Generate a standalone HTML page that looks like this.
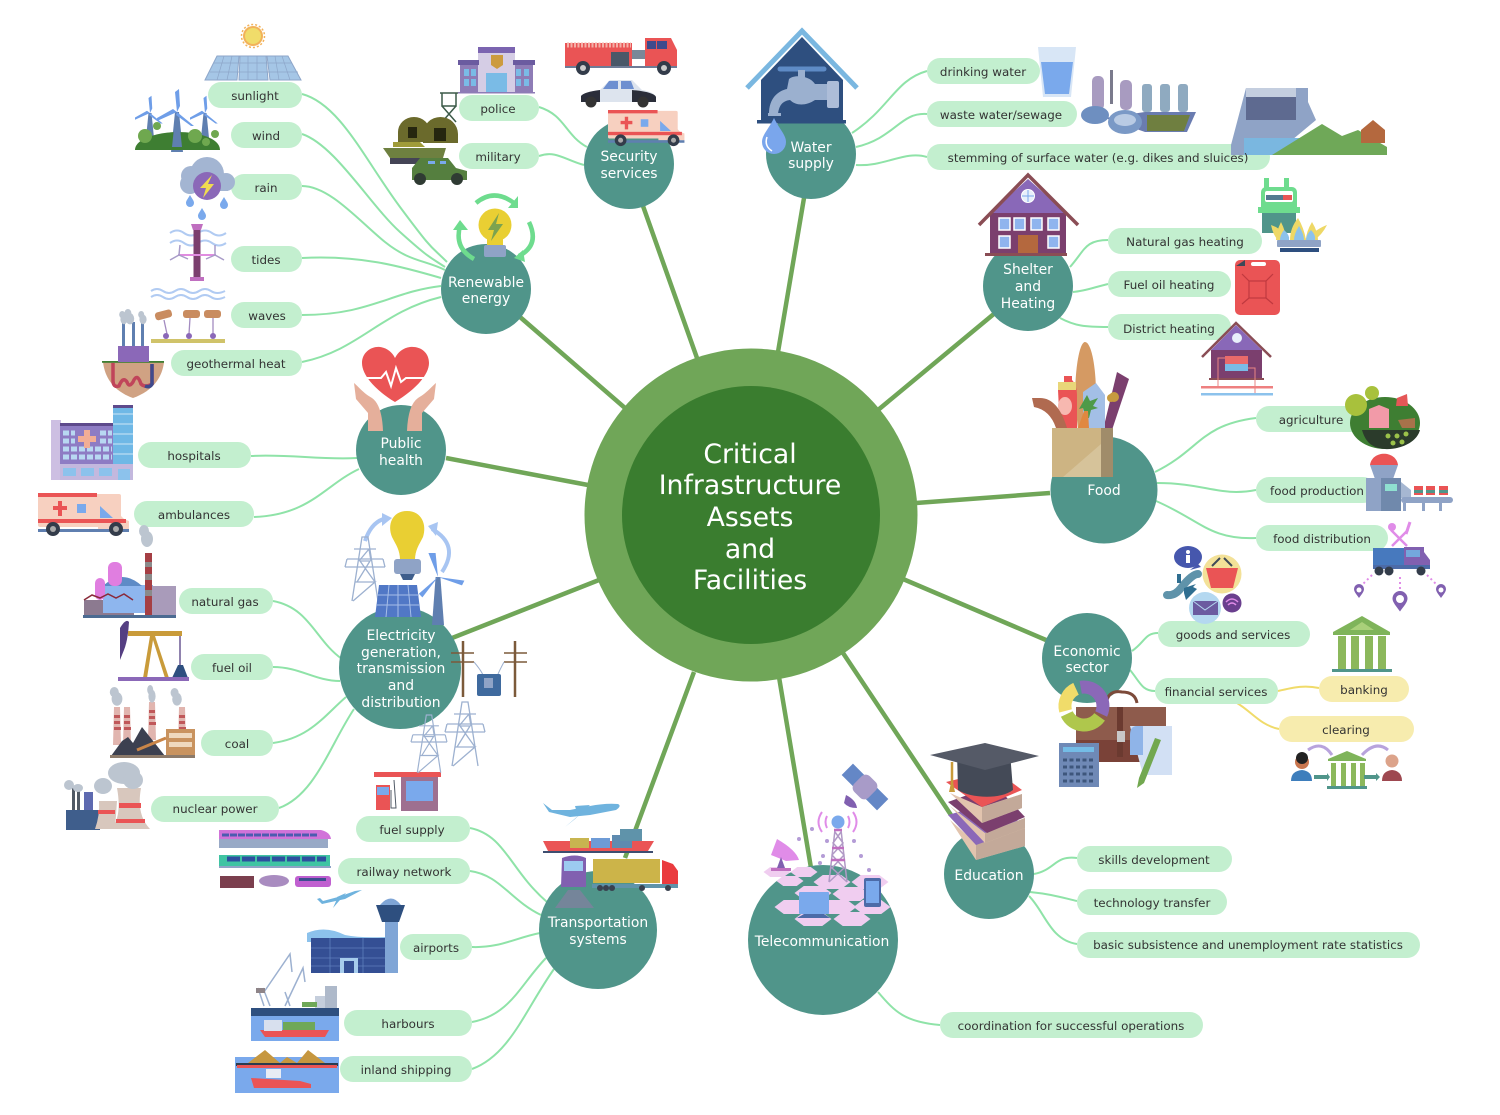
<!DOCTYPE html>
<html><head><meta charset="utf-8"><title>Critical Infrastructure Assets and Facilities</title>
<style>
html,body{margin:0;padding:0;background:#fff}
svg{display:block}
text{font-family:"DejaVu Sans","Liberation Sans",sans-serif}
.l text{font-size:11.9px;fill:#333;text-anchor:middle}
.n text{font-size:13.9px;fill:#fff;text-anchor:middle}
.c text{font-size:26.7px;fill:#fff;text-anchor:middle}
.p rect{fill:#C3EFCF}
.y rect{fill:#F7ECAE}
</style></head><body>
<svg xmlns="http://www.w3.org/2000/svg" width="1500" height="1115" viewBox="0 0 1500 1115">
<defs>
<g id="amb">
<rect x="0" y="1" width="83" height="33" rx="2" fill="#F7D0C0"/><path d="M60 8h8l18 18 5 2v8H60z" fill="#F7D0C0"/>
<rect x="0" y="0" width="59" height="4" fill="#EA5455"/><rect x="0" y="26" width="88" height="4" fill="#EA5455"/>
<path d="M62 13l13 12H62z" fill="#7AA9EC"/><rect x="39" y="11" width="9" height="9" fill="#7AA9EC"/>
<path d="M20 8h4v5h5v4h-5v6h-4v-6h-5v-4h5z" fill="#EA5455"/>
<rect x="0" y="36" width="91" height="3" fill="#5F7FB0"/><circle cx="15" cy="36" r="7" fill="#333C4A"/><circle cx="15" cy="36" r="3" fill="#aaa"/><circle cx="78" cy="36" r="7" fill="#333C4A"/><circle cx="78" cy="36" r="3" fill="#aaa"/>
</g>
<g id="tow" fill="none" stroke="#9DB1D0" stroke-width="1.300">
<path d="M-13 64L-3 0H3L13 64M-10 45H10L-12 64M10 45L-5 24H5L-8 45M-4 12H4L-6 24M4 12L6 24M-18 22H18M-20 30H20M-18 22L-20 30M18 22L20 30M-11 12H11"/>
</g>
<g id="turb"><path d="M-2 0L2 0L5 40H-5z" fill="#5F7FB0"/><path d="M0 0L-8-20L-2-20zM0 0L22 3L20 7zM0 0L-13 17L-16 14z" fill="#6F9EE8"/></g>
<g id="turb2"><path d="M-2 0L2 0L6 40H-6z" fill="#5F7FB0"/><path d="M0 0L-2-20L2-23L3-6zM0 0L-20 9L-20 6L-4-3zM0 0L17 14L14 14L-1 3z" fill="#6F9EE8"/></g>
<g id="chim"><path d="M-3 0H3L4 38H-4z" fill="#E1B5AF"/><path d="M-3 8h6v3h-6zM-3 14h6v3h-6zM-3 20h7v3h-7z" fill="#C0585A"/></g>
<g id="smoke" fill="#BCC5D0"><ellipse cx="0" cy="-6" rx="6" ry="8"/><ellipse cx="-3" cy="-14" rx="5" ry="6"/></g>
<path id="hex" d="M-1 0L-.5-1H.5L1 0L.5 1H-.5z" fill="#F0CDF0"/>
</defs>

<!-- thin connectors -->
<g fill="none" stroke="#8FE3A8" stroke-width="2">
<path d="M302 94C340 104 365 160 400 207S430 245 447 262"/>
<path d="M302 134C335 145 370 205 400 232S430 257 445 267"/>
<path d="M302 186C330 186 360 222 385 242S425 260 445 270"/>
<path d="M302 258C360 255 400 266 441 278"/>
<path d="M302 315C370 315 390 292 441 286"/>
<path d="M302 362C360 350 380 312 441 297"/>
<path d="M539 107C565 115 565 135 587 147"/>
<path d="M539 156C556 150 565 160 584 165"/>
<path d="M927 71C895 80 890 108 852 133"/>
<path d="M927 114C900 112 895 138 856 147"/>
<path d="M927 157C905 150 885 167 856 165"/>
<path d="M1108 240C1085 240 1085 250 1070 267"/>
<path d="M1108 284C1095 287 1085 291 1073 292"/>
<path d="M1108 327C1085 327 1075 326 1060 318"/>
<path d="M1256 418C1200 425 1200 450 1155 472"/>
<path d="M1256 490C1220 497 1205 483 1157 483"/>
<path d="M1256 538C1210 540 1200 520 1156 501"/>
<path d="M1158 633C1145 633 1145 642 1132 651"/>
<path d="M1155 691C1142 691 1140 682 1130 670"/>
<path d="M1077 858C1055 855 1055 870 1034 874"/>
<path d="M1077 901C1060 897 1050 894 1030 892"/>
<path d="M1077 944C1050 940 1045 912 1029 896"/>
<path d="M940 1025C905 1022 895 1012 878 992"/>
<path d="M251 456C290 454 320 460 357 458"/>
<path d="M254 517C310 515 325 485 359 469"/>
<path d="M273 601C310 608 315 640 342 659"/>
<path d="M273 667C300 667 315 681 340 681"/>
<path d="M273 743C310 738 325 715 346 697"/>
<path d="M279 808C315 795 330 745 354 709"/>
<path d="M470 828C505 835 510 870 547 902"/>
<path d="M470 871C500 875 510 900 541 915"/>
<path d="M472 947C500 948 515 938 540 933"/>
<path d="M472 1022C510 1015 520 985 546 958"/>
<path d="M472 1069C510 1055 525 1010 554 969"/>
</g>
<g fill="none" stroke="#F0DB6A" stroke-width="2">
<path d="M1278 691C1295 687 1305 685 1319 688"/>
<path d="M1237 703C1252 712 1260 725 1279 729"/>
</g>
<!-- thick connectors -->
<g stroke="#70A658" stroke-width="4.500">
<path d="M520 317L625 408M643 206L697 358M804 198L778 352M995 313L878 410M1050 493L916 503M1046 640L903 579M951 815L843 653M811 868L779 677M625 858L694 672M447 640L599 580M446 458L588 485"/>
</g>
<!-- centre -->
<circle cx="751" cy="515" r="166.500" fill="#70A658"/><circle cx="751" cy="515" r="129" fill="#3A7D2F"/>
<!-- nodes -->
<g fill="#50958A">
<circle cx="486" cy="289" r="45"/><circle cx="629" cy="164" r="45"/><circle cx="811" cy="154" r="45"/>
<circle cx="1028" cy="286" r="45"/><circle cx="1104" cy="490" r="53.500"/><circle cx="1087" cy="658" r="45"/>
<circle cx="989" cy="874" r="45"/><circle cx="823" cy="940" r="75"/><circle cx="598" cy="930" r="59"/>
<circle cx="400" cy="668" r="61"/><circle cx="401" cy="450" r="45"/>
</g>
<!-- pills -->
<g class="p">
<rect x="208" y="82" width="94" height="26" rx="13"/><rect x="231" y="122" width="71" height="26" rx="13"/>
<rect x="231" y="174" width="71" height="26" rx="13"/><rect x="231" y="246" width="71" height="26" rx="13"/>
<rect x="231" y="302" width="71" height="26" rx="13"/><rect x="171" y="350" width="131" height="26" rx="13"/>
<rect x="459" y="95" width="80" height="26" rx="13"/><rect x="459" y="143" width="80" height="26" rx="13"/>
<rect x="927" y="58" width="113" height="26" rx="13"/><rect x="927" y="101" width="150" height="26" rx="13"/>
<rect x="927" y="144" width="343" height="26" rx="13"/>
<rect x="1108" y="228" width="154" height="26" rx="13"/><rect x="1108" y="271" width="123" height="26" rx="13"/>
<rect x="1108" y="314" width="123" height="26" rx="13"/>
<rect x="1256" y="406" width="112" height="26" rx="13"/><rect x="1256" y="477" width="120" height="26" rx="13"/>
<rect x="1256" y="525" width="132" height="26" rx="13"/>
<rect x="1158" y="621" width="152" height="26" rx="13"/><rect x="1155" y="678" width="123" height="26" rx="13"/>
<rect x="1077" y="846" width="155" height="26" rx="13"/><rect x="1077" y="889" width="150" height="26" rx="13"/>
<rect x="1077" y="932" width="343" height="26" rx="13"/><rect x="940" y="1012" width="263" height="26" rx="13"/>
<rect x="138" y="442" width="113" height="26" rx="13"/><rect x="134" y="501" width="120" height="26" rx="13"/>
<rect x="179" y="588" width="94" height="26" rx="13"/><rect x="191" y="654" width="82" height="26" rx="13"/>
<rect x="201" y="730" width="72" height="26" rx="13"/><rect x="151" y="796" width="128" height="26" rx="13"/>
<rect x="356" y="816" width="114" height="26" rx="13"/><rect x="338" y="858" width="132" height="26" rx="13"/>
<rect x="400" y="934" width="72" height="26" rx="13"/><rect x="344" y="1010" width="128" height="26" rx="13"/>
<rect x="340" y="1056" width="132" height="26" rx="13"/>
</g>
<g class="y"><rect x="1319" y="676" width="90" height="26" rx="13"/><rect x="1279" y="716" width="135" height="26" rx="13"/></g>

<!-- ICONS -->
<!-- sun + solar -->
<g stroke="#F2B25A" stroke-width="1.500" stroke-dasharray="2 2" fill="none"><circle cx="253" cy="36" r="11.500"/></g>
<circle cx="253" cy="36" r="10" fill="#F2B25A"/><circle cx="253" cy="36" r="8" fill="#F0DC6A"/>
<path d="M205 80L217 56H239L237 80zM239 80L240 56H266L268 80zM270 80L267 56H288L301 80z" fill="#A5C6E6" stroke="#8DA6C9"/>
<g stroke="#8DA6C9" stroke-width=".7"><path d="M210 72H298M214 63H292M224 56L217 80M232 56L227 80M248 56V80M257 56V80M275 56L279 80M282 56L290 80"/></g>
<!-- wind -->
<use href="#turb2" transform="translate(177 112)"/><use href="#turb2" transform="translate(150 113) scale(.75)"/><use href="#turb2" transform="translate(205 113) scale(.75)"/>
<path d="M135 150C135 138 160 132 178 132C198 132 220 138 220 150z" fill="#3E7E32"/>
<path d="M172 147L174 128H180L182 147z" fill="#5F7FB0"/>
<g fill="#6FA84F"><circle cx="145" cy="136" r="7"/><circle cx="195" cy="136" r="7"/><circle cx="157" cy="126" r="4"/><circle cx="215" cy="134" r="4"/><circle cx="206" cy="142" r="4"/></g>
<!-- rain -->
<g fill="#A3B5D2"><circle cx="207" cy="174" r="17"/><circle cx="191" cy="176" r="10"/><circle cx="226" cy="182" r="9"/><circle cx="190" cy="184" r="10"/><rect x="188" y="180" width="40" height="11"/></g>
<circle cx="207" cy="186" r="14" fill="#8B68B8"/><path d="M212 175L200 188H206L203 198L214 184H208z" fill="#F0DC50"/>
<g fill="#7AA9EC"><path d="M190 195c-3 5-4 6-4 8a4 4 0 0 0 8 0c0-2-1-3-4-8zM224 197c-3 5-4 6-4 8a4 4 0 0 0 8 0c0-2-1-3-4-8zM202 208c-3 5-4 6-4 8a4 4 0 0 0 8 0c0-2-1-3-4-8z"/></g>
<!-- tides -->
<g fill="none" stroke="#B1CBF2" stroke-width="2"><path d="M170 233q7-5 14 0t14 0 14 0 14 0M170 243q7-5 14 0t14 0 14 0 14 0"/></g>
<path d="M191 224h12l-2 6h-8z" fill="#C06FC0"/><rect x="193.500" y="230" width="7" height="47" fill="#7B3F6E"/><rect x="190" y="277" width="14" height="4" fill="#C06FC0"/>
<path d="M178 255L216 255" stroke="#E08CE0" stroke-width="2"/><path d="M179 255l-9 5M179 255l1-10M179 255l9 4M215 255l-9 4M215 255l0-10M215 255l9 5" stroke="#A89BC8" stroke-width="1.500"/>
<!-- waves -->
<g fill="none" stroke="#B1CBF2" stroke-width="2"><path d="M151 291q6-4 12 0t12 0 12 0 12 0 12 0 14 0M151 297q6-4 12 0t12 0 12 0 12 0 12 0 14 0"/></g>
<rect x="151" y="339" width="74" height="4" fill="#D0C36A"/>
<g fill="#C98C60"><rect x="155" y="311" width="17" height="8" rx="3" transform="rotate(-15 163 315)"/><rect x="183" y="310" width="17" height="8" rx="3"/><rect x="204" y="310" width="17" height="8" rx="3"/></g>
<g stroke="#A38BC0" stroke-width="1.300"><path d="M164 320L167 334M190 318L189 334M213 318V334"/></g>
<g fill="#8B68B8"><circle cx="166" cy="336" r="3"/><circle cx="189" cy="336" r="3"/><circle cx="213" cy="336" r="3"/></g>
<!-- geothermal -->
<path d="M103 362H164C162 380 150 392 133 398C116 392 105 380 103 362z" fill="#D0A283"/>
<rect x="102" y="361" width="62" height="1.800" fill="#3E7E32"/>
<rect x="118" y="346" width="31" height="16" fill="#8B68B8"/>
<g fill="#5F7FB0"><rect x="122" y="322" width="3" height="24"/><rect x="132" y="322" width="3" height="24"/><rect x="141" y="322" width="3" height="24"/></g>
<use href="#smoke" transform="translate(124 323) scale(.6)"/><use href="#smoke" transform="translate(130 323) scale(.7)"/><use href="#smoke" transform="translate(143 323) scale(.6)"/>
<path d="M113 363V380Q113 388 119 386Q123 376 127 382Q129 388 133 382Q137 372 141 384Q145 388 152 384V364" fill="none" stroke="#C0455A" stroke-width="3.500"/>
<path d="M152 364V384Q150 388 145 386" stroke="#3F4A8C" stroke-width="3.500" fill="none"/>
<!-- renewable bulb -->
<circle cx="495" cy="225" r="16.500" fill="#E9CF33"/><path d="M487 238H503V246H487z" fill="#E9CF33"/><rect x="484" y="245" width="22" height="12" rx="2" fill="#8FA3C6"/><path d="M499 213L488 230H494L491 241L503 224H496z" fill="#7CA34F"/>
<g fill="none" stroke="#6EDC8E" stroke-width="4.500"><path d="M476 203Q494 188 514 203"/><path d="M460 226Q454 248 474 259"/><path d="M529 222Q540 245 519 256"/></g>
<g fill="#6EDC8E"><path d="M508 208L518 196V208zM453 230L460 220L468 230zM514 258L523 250L525 262z"/></g>
<!-- police -->
<rect x="478" y="52" width="37" height="41" fill="#D5CDE5"/><rect x="478" y="47" width="37" height="6" fill="#7B64B0"/>
<rect x="460" y="65" width="18" height="28" fill="#8E7CB6"/><rect x="515" y="65" width="18" height="28" fill="#8E7CB6"/><rect x="458" y="60" width="21" height="5" fill="#6B5BA0"/><rect x="513" y="60" width="22" height="5" fill="#6B5BA0"/>
<g fill="#7ABBE6"><rect x="464" y="69" width="5" height="7"/><rect x="471" y="69" width="5" height="7"/><rect x="464" y="79" width="5" height="7"/><rect x="471" y="79" width="5" height="7"/><rect x="516" y="69" width="5" height="7"/><rect x="524" y="69" width="5" height="7"/><rect x="516" y="79" width="5" height="7"/><rect x="524" y="79" width="5" height="7"/><rect x="486" y="73" width="21" height="20"/></g>
<path d="M491 55h12v10l-6 4-6-4z" fill="#CC9B3F"/><rect x="458" y="92" width="77" height="1.500" fill="#8E7CB6"/>
<!-- military -->
<g fill="none" stroke="#3C5A48" stroke-width="1.500"><path d="M440 93H458M442 93V106H456V93M442 106L456 122M456 106L442 122"/></g>
<path d="M398 142V132A16 15 0 0 1 430 132V142z" fill="#6B6A2C"/><path d="M423 143V134A17.500 17 0 0 1 458 134V143z" fill="#6B6A2C"/><rect x="408" y="127" width="9" height="11" fill="#26260F"/><rect x="434" y="128" width="12" height="13" fill="#26260F"/>
<path d="M383 148H446L443 158H390z" fill="#6E8040"/><path d="M393 142H420L425 147H393z" fill="#A09C3A"/><rect x="390" y="158" width="30" height="6" fill="#445"/>
<path d="M412 168L420 158H448L456 168L467 171V180H412z" fill="#557F3F"/><rect x="428" y="161" width="7" height="3" fill="#7AA9EC"/><rect x="440" y="161" width="6" height="3" fill="#7AA9EC"/><circle cx="420" cy="179" r="6" fill="#2F3B33"/><circle cx="457" cy="179" r="6" fill="#2F3B33"/>
<!-- fire truck -->
<path d="M565 43H632V68H565z" fill="#EA5455"/><path d="M567 45H631" stroke="#F4B0A8" stroke-width="5" stroke-dasharray="2 1.500"/><path d="M645 38H671L677 50V68H645z" fill="#EA5455"/>
<rect x="647" y="41" width="9" height="8" fill="#3F4A8C"/><rect x="657" y="41" width="10" height="8" fill="#3F4A8C"/><rect x="611" y="52" width="18" height="16" fill="#4A5868"/><rect x="632" y="50" width="13" height="9" fill="#7A8898"/>
<rect x="565" y="66" width="112" height="2" fill="#6F7C96"/><circle cx="583" cy="68" r="7" fill="#333C4A"/><circle cx="583" cy="68" r="3" fill="#ccc"/><circle cx="664" cy="68" r="7" fill="#333C4A"/><circle cx="664" cy="68" r="3" fill="#ccc"/>
<!-- police car -->
<path d="M581 96Q584 92 600 90L610 80H632L642 90Q654 92 656 97V102H581z" fill="#DDE4EE"/><path d="M581 96Q584 92 600 90V102H581zM632 90Q654 92 656 97V102H632z" fill="#2B2E3A"/><path d="M603 89L609 81H618V89zM621 81H631L634 89H621z" fill="#6D8FD0"/>
<circle cx="591" cy="102" r="5.500" fill="#333"/><circle cx="643" cy="102" r="5.500" fill="#333"/>
<!-- ambulance top -->
<use href="#amb" transform="translate(608 110) scale(.84)"/>
<!-- water house -->
<path d="M761 122V80L802 37L843 80V122z" fill="#2E4F7F"/><path d="M747 88L802 31L857 88" fill="none" stroke="#7AB7E0" stroke-width="5"/><rect x="757" y="120" width="89" height="3.500" fill="#2E4F7F"/>
<g fill="#9BB0CF"><path d="M769 114C769 98 778 91 787 89L789 79C795 74 810 76 815 84H828V100H815C806 106 796 106 790 100C782 101 779 106 778 114z"/><rect x="827" y="81" width="12" height="27" rx="2" fill="#ADBDD8"/><rect x="768" y="113" width="13" height="3"/></g>
<path d="M780 69H824" stroke="#5E8BC6" stroke-width="5" stroke-linecap="round"/><rect x="798" y="70" width="7" height="10" fill="#9BB0CF"/>
<path d="M774 118C768 130 762 135 762 142A12 12 0 0 0 786 142C786 135 780 130 774 118z" fill="#7AA6EC"/><path d="M767 137Q764 146 772 151" stroke="#fff" stroke-width="1.500" fill="none"/>
<!-- glass -->
<path d="M1038 47H1076L1071 97H1043z" fill="#D8E6F6"/><path d="M1041 62H1073L1069 94H1045z" fill="#7AA9EC"/>
<!-- waste plant -->
<g fill="#A89BC0"><rect x="1092" y="76" width="12" height="34" rx="5"/><rect x="1120" y="80" width="12" height="30" rx="5"/></g>
<rect x="1110" y="70" width="3" height="34" fill="#7A7A8C"/>
<g fill="#8FAAC0"><rect x="1142" y="84" width="10" height="28" rx="3"/><rect x="1160" y="84" width="10" height="28" rx="3"/><rect x="1178" y="84" width="10" height="28" rx="3"/></g>
<path d="M1105 118L1145 112H1196L1187 132H1145z" fill="#6A7CB0"/>
<ellipse cx="1095" cy="115" rx="14" ry="9" fill="#6E8FC0"/><ellipse cx="1125" cy="122" rx="17" ry="12" fill="#7A99C6"/><ellipse cx="1125" cy="120" rx="11" ry="6" fill="#B9CBE4"/>
<path d="M1147 115H1190L1184 131H1147z" fill="#6F7F40"/>
<!-- dam -->
<path d="M1231 145L1246 88H1308V102L1316 120L1274 155H1231z" fill="#8FA3C6"/><rect x="1246" y="97" width="50" height="23" fill="#5E6A90"/><rect x="1246" y="88" width="50" height="9" fill="#C4CEDF"/><path d="M1244 138H1310L1280 155H1244z" fill="#7AB7E0"/><path d="M1272 155L1322 124L1342 136L1358 130L1387 147V155z" fill="#6FA858"/>
<path d="M1361 130L1373 120L1385 130V143H1361z" fill="#B4683E"/>
<!-- shelter -->
<path d="M990 213H1066V255H990z" fill="#7B3F6E"/><path d="M990 213L1028 179L1066 213z" fill="#8968B8"/><path d="M979 225L1028 175L1078 225" fill="none" stroke="#8A4D55" stroke-width="3.500"/>
<circle cx="1028" cy="196" r="6.500" fill="#E8F0FB" stroke="#fff"/><path d="M1028 190V202M1022 196H1034" stroke="#7AA9EC" stroke-width="1"/>
<g fill="#8FB4EE" stroke="#fff" stroke-width="1.500"><rect x="999" y="218" width="11" height="12"/><rect x="1014" y="218" width="11" height="12"/><rect x="1031" y="218" width="11" height="12"/><rect x="1048" y="218" width="11" height="12"/><rect x="999" y="236" width="11" height="12"/><rect x="1048" y="236" width="11" height="12"/></g>
<rect x="1018" y="235" width="20" height="20" fill="#B4683E"/><rect x="985" y="253" width="82" height="3" fill="#8A4D55"/>
<!-- gas -->
<rect x="1264" y="178" width="5" height="10" fill="#6EDC8E"/><rect x="1284" y="178" width="5" height="10" fill="#6EDC8E"/>
<rect x="1261" y="187" width="36" height="26" rx="5" fill="#6EDC8E"/><rect x="1265" y="191" width="28" height="11" rx="2" fill="#fff"/><rect x="1266" y="195" width="26" height="5" fill="#537A90"/><rect x="1283" y="195" width="9" height="5" fill="#EA5455"/>
<rect x="1258" y="207" width="42" height="6" fill="#6EDC8E"/><rect x="1262" y="213" width="34" height="20" fill="#50958A"/>
<path d="M1271 225Q1280 228 1285 235L1283 240H1278Q1273 235 1271 225zM1298 218Q1304 228 1306 240H1290Q1290 228 1298 218zM1327 225Q1322 235 1314 240H1304Q1318 228 1327 225z" fill="#EED866"/><path d="M1281 222Q1286 232 1286 240H1276Q1276 232 1281 222zM1312 222Q1318 232 1318 240H1306Q1306 232 1312 222z" fill="#EED866"/>
<path d="M1284 230Q1290 235 1289 240H1280Q1280 235 1284 230zM1299 226Q1304 234 1304 240H1294Q1294 234 1299 226zM1311 230Q1316 235 1315 240H1306Q1306 235 1311 230z" fill="#8CC2EC"/>
<rect x="1277" y="240" width="44" height="7" rx="1" fill="#8FA3C6"/><rect x="1280" y="248" width="39" height="4" fill="#2E4F7F"/>
<!-- can -->
<rect x="1235" y="260" width="45" height="55" rx="5" fill="#EA5455"/><path d="M1236 266L1245 260V266z" fill="#3C4858"/><rect x="1251" y="262" width="15" height="4" rx="2" fill="#fff"/>
<g fill="none" stroke="#C0393F" stroke-width="1.200"><rect x="1249" y="281" width="17" height="17"/><path d="M1242 274L1249 281M1273 274L1266 281M1242 304L1249 298M1273 304L1266 298"/></g>
<!-- district -->
<rect x="1211" y="350" width="51" height="29" fill="#7B3F6E"/><path d="M1211 350L1236 325L1262 350z" fill="#8968B8"/><path d="M1202 357L1236 323L1271 357" fill="none" stroke="#8A4D55" stroke-width="2.500"/><circle cx="1237" cy="338" r="5" fill="#E8F0FB"/><rect x="1209" y="378" width="55" height="2" fill="#8A4D55"/>
<rect x="1225" y="356" width="23" height="8" fill="#EA6A6A"/><rect x="1225" y="364" width="23" height="7" fill="#7ABBE6"/>
<path d="M1218 387V358H1225M1248 368H1255V394" fill="none" stroke="#EA8484"/><rect x="1201" y="386" width="72" height="2.500" fill="#EE8080"/><rect x="1201" y="393" width="72" height="2.500" fill="#8CC2EC"/>
<!-- food -->
<path d="M1075 400C1075 365 1080 342 1085 342C1091 342 1096 365 1096 395L1092 430H1078z" fill="#D59A63"/>
<path d="M1117 372L1129 379L1112 430H1103z" fill="#7B3F6E"/><circle cx="1114" cy="397" r="5" fill="#C69A3F"/><circle cx="1111" cy="398" r="4" fill="#C69A3F"/>
<path d="M1058 390Q1062 382 1068 380H1072Q1077 385 1077 395V430H1060z" fill="#EA5455"/><rect x="1064" y="376" width="8" height="6" fill="#EA5455"/><path d="M1058 382H1076V390H1058z" fill="#E9D679"/><ellipse cx="1065" cy="406" rx="7" ry="9" fill="#F7B8B0"/>
<path d="M1083 392L1096 383L1105 395V430H1083z" fill="#A3BFE6"/>
<path d="M1040 398Q1058 398 1067 428H1056Q1050 410 1034 407L1032 398z" fill="#B06A50"/>
<path d="M1087 395l3 6 8-3-5 8 5 2-7 2-2 8h-3l-3-10-4 1z" fill="#4F9A48"/><path d="M1078 428L1084 411H1088L1089 428z" fill="#E08840"/>
<path d="M1052 428H1113V477H1052z" fill="#CDB483"/><rect x="1101" y="428" width="12" height="49" fill="#A08C6A"/><path d="M1063 477L1101 444V477z" fill="#D6C39A"/>
<!-- farm -->
<ellipse cx="1385" cy="423" rx="35" ry="26" fill="#3E7E32"/><path d="M1362 430H1420C1416 445 1395 450 1385 449C1370 448 1365 440 1362 430z" fill="#2B3B2B"/>
<circle cx="1356" cy="405" r="11" fill="#A8C13C"/><circle cx="1372" cy="393" r="7" fill="#A8C13C"/><path d="M1369 422V409L1379 405L1389 409V428H1369z" fill="#F29AA8"/><path d="M1397 398L1407 394L1408 406H1396z" fill="#E55757"/><path d="M1398 420L1415 418V428H1402z" fill="#A8724A"/><g fill="#9BC24A"><circle cx="1388" cy="436" r="2.500"/><circle cx="1397" cy="436" r="2.500"/><circle cx="1406" cy="434" r="2.500"/><circle cx="1393" cy="443" r="2.500"/><circle cx="1402" cy="442" r="2.500"/></g>
<!-- food production -->
<path d="M1370 465H1398L1393 479H1375z" fill="#8FA3C6"/><path d="M1370 465C1372 450 1396 450 1398 465z" fill="#EA5455"/>
<rect x="1366" y="478" width="35" height="33" fill="#7089AC"/><rect x="1366" y="478" width="15" height="33" fill="#8FA3C6"/><path d="M1401 482L1411 490V498H1401z" fill="#A6B7D2"/><rect x="1385" y="484" width="12" height="7" fill="#8FE0D0"/>
<rect x="1401" y="497" width="52" height="6" rx="3" fill="#8FA3C6"/><g fill="#8FA3C6"><rect x="1403" y="503" width="3" height="8"/><rect x="1422" y="503" width="3" height="8"/><rect x="1439" y="503" width="3" height="8"/></g>
<g fill="#EA5455"><rect x="1414" y="486" width="9" height="9"/><rect x="1426" y="486" width="9" height="9"/><rect x="1439" y="486" width="9" height="9"/></g><g fill="#50958A"><rect x="1414" y="490" width="9" height="3"/><rect x="1426" y="490" width="9" height="3"/><rect x="1439" y="490" width="9" height="3"/></g>
<!-- delivery -->
<g stroke="#E08CE8" stroke-width="2.500" fill="none"><path d="M1392 546L1408 530M1407 546L1391 530"/></g><circle cx="1392" cy="527" r="4" fill="#E08CE8"/><path d="M1410 522L1406 534" stroke="#E08CE8" stroke-width="3"/>
<rect x="1373" y="548" width="31" height="17" fill="#4779BE"/><path d="M1404 547H1424V552L1430 560V568H1404z" fill="#8160B0"/><rect x="1406" y="550" width="14" height="7" fill="#74A8DC"/><rect x="1373" y="565" width="57" height="4" fill="#4C6BA8"/>
<g fill="#333C4A"><circle cx="1379" cy="571" r="4.500"/><circle cx="1389" cy="571" r="4.500"/><circle cx="1421" cy="571" r="4.500"/></g>
<g fill="none" stroke="#E08CE8" stroke-width="2" stroke-dasharray="2 3"><path d="M1372 575L1362 585M1400 577V590M1427 575L1437 585"/></g>
<g fill="#8160B0"><path d="M1359 584a5 5 0 0 1 5 5c0 3-3 6-5 9-2-3-5-6-5-9a5 5 0 0 1 5-5z"/><path d="M1441 584a5 5 0 0 1 5 5c0 3-3 6-5 9-2-3-5-6-5-9a5 5 0 0 1 5-5z"/><path d="M1400 591a7.500 7.500 0 0 1 7.500 7.500c0 4-4 8-7.500 13-3.500-5-7.500-9-7.500-13a7.500 7.500 0 0 1 7.500-7.500z"/></g><g fill="#fff"><circle cx="1359" cy="590" r="2.500"/><circle cx="1441" cy="590" r="2.500"/><circle cx="1400" cy="599" r="4"/></g>
<!-- goods -->
<ellipse cx="1188" cy="557" rx="14" ry="11" fill="#4657AD"/><path d="M1190 570L1201 567L1198 564z" fill="#4657AD"/><rect x="1186" y="555" width="4" height="8" fill="#fff"/><circle cx="1188" cy="552" r="2" fill="#fff"/>
<path d="M1167 595Q1175 596 1181 588Q1192 574 1198 574" stroke="#5F93AA" stroke-width="8" fill="none" stroke-linecap="round"/><path d="M1186 600L1197 589L1193 587L1196 584L1184 588V593z" fill="#2F6E90"/><rect x="1177" y="574" width="4" height="9" fill="#2F6E90"/>
<circle cx="1222" cy="574" r="19.500" fill="#F3E198"/><path d="M1206 568H1238L1233 588H1211z" fill="#EA5455"/><path d="M1212 566L1220 558M1232 566L1224 558" stroke="#3F4A58" stroke-width="2"/>
<circle cx="1205" cy="608" r="16" fill="#B4D8F0"/><rect x="1193" y="601" width="25" height="14" fill="#6B5BA0"/><path d="M1193 601L1205 610L1218 601" stroke="#B4D8F0" fill="none"/>
<circle cx="1232" cy="603" r="9.500" fill="#6A3F8E"/><path d="M1226 602Q1232 596 1238 602M1228 605Q1232 601 1236 605" stroke="#E08CE8" fill="none" stroke-width="1.500"/>
<!-- bank -->
<path d="M1333 632L1362 616L1390 632V635H1333z" fill="#7FB45A"/><path d="M1350 630L1362 622L1374 630z" fill="#A9D07A"/>
<g fill="#8CB85C"><rect x="1338" y="636" width="8" height="33"/><rect x="1351" y="636" width="8" height="33"/><rect x="1365" y="636" width="8" height="33"/><rect x="1378" y="636" width="8" height="33"/></g>
<rect x="1332" y="669" width="60" height="3" fill="#50958A"/>
<!-- briefcase -->
<path d="M1107 700Q1110 690 1122 692Q1135 692 1137 703" fill="none" stroke="#7C4A3A" stroke-width="3"/>
<rect x="1076" y="707" width="90" height="55" fill="#8E5B4C"/><rect x="1076" y="740" width="74" height="22" fill="#7A4238"/><rect x="1117" y="707" width="6" height="50" fill="#6B3A30"/><rect x="1117" y="731" width="8" height="11" fill="#C8C8C8"/>
<path d="M1130 726H1172V775H1143Z" fill="#D2E0F4"/><path d="M1130 735Q1130 726 1137 726L1143 726V755H1130z" fill="#8FB4E8"/>
<path d="M1161 740L1144 783L1137 788L1139 778L1155 738z" fill="#72A850"/>
<g fill="none" stroke-width="13"><path d="M1080.700 687.300A19 19 0 0 1 1101.200 714" stroke="#8B68B8"/><path d="M1099.600 716.900A19 19 0 0 1 1066.800 714" stroke="#AFC74C"/><path d="M1065.600 710.900A19 19 0 0 1 1076 688.800" stroke="#F0DC6A"/></g>
<rect x="1059" y="743" width="40" height="44" fill="#6F89B6"/><rect x="1063" y="747" width="31" height="5" fill="#74BCE6"/><g stroke="#3E567C" stroke-width="3" stroke-dasharray="4 2.500"><path d="M1063 760H1094M1063 767H1094M1063 774H1094M1063 781H1094"/></g>
<!-- clearing -->
<path d="M1308 750Q1322 740 1332 755M1388 750Q1376 740 1362 755" stroke="#B8A3DC" stroke-width="3" fill="none"/>
<circle cx="1302" cy="762" r="7" fill="#C9764E"/><circle cx="1302" cy="758" r="6" fill="#222"/><path d="M1291 781Q1291 771 1302 770Q1312 771 1312 781z" fill="#3E7EBC"/>
<circle cx="1392" cy="761" r="6.500" fill="#DCA38A"/><path d="M1382 781Q1382 771 1392 770Q1402 771 1402 781z" fill="#9E4850"/>
<path d="M1328 759L1347 751L1366 759V761H1328z" fill="#7FB45A"/><g fill="#8CB85C"><rect x="1331" y="763" width="5" height="23"/><rect x="1341" y="763" width="5" height="23"/><rect x="1351" y="763" width="5" height="23"/><rect x="1360" y="763" width="5" height="23"/></g><rect x="1327" y="786" width="40" height="3" fill="#50958A"/>
<path d="M1314 775h13v-2l3 4-3 4v-2h-13zM1364 775h12v-2l4 4-4 4v-2h-12z" fill="#50958A"/>
<!-- education -->
<path d="M950 820L976 860L1025 846V828L976 843z" fill="#E2C4AE"/><path d="M976 860L1025 846V828L976 843z" fill="#C3A999"/><path d="M948 815L1000 800L1024 828L976 845Z" fill="#8B68B8"/>
<path d="M950 806L985 843L1025 828V818L985 833z" fill="#E2C4AE"/><path d="M985 843L1025 828V818L985 833z" fill="#C3A999"/><path d="M948 802L995 785L1025 817L987 833z" fill="#7B3F6E"/>
<path d="M950 793L982 823L1022 808V794L982 807z" fill="#E2C4AE"/><path d="M982 823L1022 808V794L982 807z" fill="#C3A999"/><path d="M946 782L995 770L1022 790L982 807z" fill="#EA5455"/>
<path d="M957 752H1010L1013 790C1000 800 970 798 958 790z" fill="#444A57"/><path d="M930 755L985 743L1039 756L985 770z" fill="#555A67"/><path d="M952 762V790" stroke="#C99B3A" stroke-width="2.500"/><path d="M952 778l-3 14h6z" fill="#C99B3A"/>
<!-- telecom -->
<g transform="rotate(45 865 787)"><rect x="840" y="779" width="16" height="16" fill="#6487C6"/><rect x="874" y="779" width="16" height="16" fill="#6487C6"/><rect x="855" y="776" width="20" height="22" rx="6" fill="#A89BC8"/></g><path d="M846 795Q856 800 857 808Q848 808 844 803z" fill="#8160B0"/>
<use href="#hex" transform="translate(777 872) scale(13.500 5)"/><use href="#hex" transform="translate(804 872) scale(13.500 5)"/><use href="#hex" transform="translate(790 881) scale(13.500 5)"/>
<use href="#hex" transform="translate(832 882) scale(18.500 7)"/><use href="#hex" transform="translate(870 882) scale(18.500 7)"/><use href="#hex" transform="translate(813 893) scale(18.500 7)"/><use href="#hex" transform="translate(851 894) scale(18.500 7)"/><use href="#hex" transform="translate(793 907) scale(18.500 7)"/><use href="#hex" transform="translate(838 907) scale(18.500 7)"/><use href="#hex" transform="translate(872 907) scale(18.500 7)"/><use href="#hex" transform="translate(813 919) scale(18.500 7)"/><use href="#hex" transform="translate(852 919) scale(18.500 7)"/>
<rect x="799" y="892" width="30" height="22" rx="1" fill="#7AA9EC"/><path d="M797 918L804 914H824L830 918z" fill="#4C6BA8"/><rect x="864" y="878" width="17" height="29" rx="2" fill="#4C6BA8"/><rect x="866" y="881" width="13" height="22" fill="#7AA9EC"/>
<g fill="none" stroke-width="1.500"><path d="M835 830L829 882M841 830L847 882M829 882L844 868L832 855L843 843L835 832M847 882L832 868L844 855L833 843L841 832" stroke="#B19AC6"/><path d="M834 830H842M832 848H844M831 860H845" stroke="#C06FC0" stroke-width="2.500"/></g><circle cx="838" cy="822" r="6.500" fill="#7AA9EC"/>
<g fill="none" stroke="#E08CE8" stroke-width="2"><path d="M822 812Q815 822 822 832M853 812Q860 822 853 832M827 816Q824 822 827 828M848 816Q851 822 848 828"/></g>
<path d="M777 839Q796 850 799 860L786 861L771 855z" fill="#E08CE8"/><path d="M777 868L781 857L785 868z" fill="#8160B0"/><rect x="771" y="868" width="20" height="3" fill="#C06FC0"/>
<g fill="#B49CD6"><circle cx="799" cy="839" r="2"/><circle cx="812" cy="829" r="2"/><circle cx="827" cy="841" r="2"/><circle cx="823" cy="856" r="2"/><circle cx="820" cy="863" r="2"/><circle cx="854" cy="841" r="2"/><circle cx="861" cy="856" r="2"/><circle cx="869" cy="870" r="2"/></g>
<!-- transport hub -->
<path d="M543 803L549 812L570 817L590 815L616 810Q622 806 618 804Q605 803 590 806L570 810L552 810z" fill="#6FB3DE"/><path d="M575 806L590 805L575 819L565 827L578 816z" fill="#6FB3DE"/>
<path d="M543 841H654L648 851H548z" fill="#EA5455"/><rect x="570" y="838" width="19" height="10" fill="#C8B550"/><rect x="591" y="838" width="19" height="10" fill="#6E9BD6"/><rect x="612" y="835" width="20" height="13" fill="#5E8BB0"/><path d="M620 829H642V841H620z" fill="#5F93AA"/><rect x="543" y="851" width="110" height="2" fill="#3E4E70"/>
<path d="M562 858Q575 853 586 858V887H561z" fill="#8160B0"/><rect x="564" y="861" width="19" height="10" fill="#9CCAF0"/><path d="M555 908L568 890H580L594 908z" fill="#75859A"/>
<rect x="593" y="859" width="67" height="24" fill="#CCB449"/><path d="M662 860L673 864L678 871V885H662z" fill="#EA3B3F"/><rect x="592" y="884" width="86" height="4" fill="#5F93AA"/><g fill="#39414F"><circle cx="600" cy="888" r="3"/><circle cx="606" cy="888" r="3"/><circle cx="612" cy="888" r="3"/><circle cx="642" cy="888" r="3"/><circle cx="668" cy="888" r="3"/></g>
<!-- fuel -->
<rect x="374" y="772" width="67" height="5" fill="#EA5455"/><rect x="401" y="777" width="37" height="34" fill="#9E7090"/><rect x="406" y="781" width="27" height="20" fill="#7AA9EC"/><path d="M376 785H390V810H376z" fill="#EA5455"/><rect x="377" y="787" width="12" height="8" fill="#7AA9EC"/><path d="M394 780L396 808H391V790" fill="none" stroke="#505A66"/>
<!-- trains -->
<path d="M219 830H321Q330 832 331 839H219z" fill="#D173D9"/><rect x="219" y="839" width="109" height="9" fill="#98A9C6"/><path d="M222 835H317" stroke="#4C5CAF" stroke-width="3" stroke-dasharray="7 1"/>
<path d="M219 855H330V866H219z" fill="#40C4A3"/><path d="M227 859H326" stroke="#2E4F9F" stroke-width="5" stroke-dasharray="13 2"/><rect x="219" y="866" width="112" height="2" fill="#8FA3C6"/>
<rect x="220" y="876" width="34" height="12" fill="#7B3F4E"/><ellipse cx="274" cy="881" rx="15" ry="6" fill="#A98CC0"/><rect x="295" y="876" width="36" height="11" rx="3" fill="#C060D0"/><rect x="299" y="878" width="27" height="3" fill="#3E4E90"/>
<!-- airport -->
<path d="M317 899L322 904L345 899L362 890L355 891L338 897L323 901L320 898z" fill="#6FB3DE"/><path d="M337 897L346 893L333 908L337 899z" fill="#6FB3DE"/>
<path d="M307 933Q325 925 345 935Q360 938 385 937V942H307z" fill="#8CC2EC"/><rect x="311" y="938" width="75" height="35" fill="#344F94"/><g stroke="#5E7FBC" stroke-width=".8"><path d="M311 948H386M311 958H386M311 966H386M330 938V973M363 938V973"/></g><rect x="340" y="958" width="18" height="15" fill="#A6CCEC"/><rect x="344" y="961" width="10" height="12" fill="#344F94"/>
<rect x="385" y="920" width="13" height="53" fill="#7FA5D6"/><path d="M376 905H405L399 922H382z" fill="#2E4F7F"/><path d="M380 905Q391 892 401 905z" fill="#7FA5D6"/>
<!-- harbour -->
<rect x="251" y="1008" width="88" height="33" fill="#7AA9EC"/><rect x="251" y="1008" width="88" height="8" fill="#2E4F7F"/>
<g stroke="#9DB1D0" stroke-width="1.500" fill="none"><path d="M264 992L290 954L292 972M270 1006L263 988M264 1006L258 988M285 1006L303 968L305 982M290 1006L285 992"/></g><rect x="256" y="988" width="9" height="5" fill="#8E8488"/>
<rect x="315" y="996" width="10" height="12" fill="#C5CEDC"/><rect x="325" y="986" width="12" height="22" fill="#AEB9CA"/><rect x="302" y="1002" width="15" height="5" fill="#6FA858"/>
<path d="M260 1030H329L325 1037H265z" fill="#EA5455"/><rect x="264" y="1020" width="18" height="11" fill="#D8E0EE"/><rect x="283" y="1022" width="32" height="8" fill="#6FA858"/>
<!-- inland -->
<rect x="235" y="1057" width="104" height="36" fill="#7AA9EC"/><rect x="236" y="1063" width="102" height="3" fill="#2B3B4F"/><rect x="237" y="1065" width="100" height="3" fill="#EA5455"/>
<path d="M248 1063L265 1050L280 1063L287 1057L297 1063L308 1050L325 1063z" fill="#C6973F"/>
<path d="M251 1078L300 1081L311 1084V1088H254z" fill="#EA5455"/><rect x="266" y="1069" width="15" height="9" fill="#E8ECF4"/>
<!-- heart -->
<path d="M395 402C375 390 362 375 362 363C362 352 372 346 380 347C387 348 392 352 395 358C398 352 403 348 410 347C420 346 429 352 429 363C429 375 415 390 395 402z" fill="#EA5455"/>
<path d="M366 378H381L386 372L391 386L396 368L401 382L406 378H425" fill="none" stroke="#fff" stroke-width="2"/>
<path d="M354 383C360 388 362 392 372 398Q382 405 383 431H368V413L356 399z" fill="#E5AF9B"/><path d="M436 383C430 388 428 392 418 398Q408 405 407 431H422V413L434 399z" fill="#E5AF9B"/>
<!-- hospital -->
<rect x="51" y="420" width="10" height="60" fill="#CDBFE2"/><rect x="60" y="424" width="55" height="56" fill="#8E7CC4"/><rect x="60" y="423" width="55" height="3" fill="#5E4A8C"/><rect x="113" y="406" width="20" height="58" fill="#6FB8E6"/><rect x="113" y="405" width="20" height="3" fill="#5E4A8C"/><g stroke="#CDE6F7" stroke-width="1"><path d="M113 414H133M113 424H133M113 434H133M113 444H133M113 454H133"/></g>
<rect x="60" y="464" width="73" height="16" fill="#C3B8DE"/><g fill="#8CC2EC"><rect x="63" y="468" width="13" height="8"/><rect x="81" y="468" width="13" height="8"/><rect x="99" y="468" width="13" height="8"/><rect x="118" y="469" width="12" height="11"/></g>
<g stroke="#B8D8F2" stroke-width="5" stroke-dasharray="6 2" fill="none"><path d="M63 433H75M100 433H112M63 441H75M100 441H112M63 449H112M63 457H112"/></g>
<path d="M84 430h6v6h6v6h-6v6h-6v-6h-6v-6h6z" fill="#F2AE96"/>
<use href="#amb" x="38" y="493"/>
<!-- natural gas -->
<rect x="84" y="600" width="50" height="18" fill="#8C7A90"/><rect x="103" y="585" width="50" height="28" fill="#8EB6EE"/><path d="M103 586Q122 568 142 586z" fill="#5E8BC6"/><rect x="108" y="562" width="14" height="24" rx="6" fill="#E07EE0"/><rect x="95" y="578" width="10" height="22" rx="5" fill="#E07EE0"/>
<rect x="145" y="553" width="7" height="62" fill="#A53F44"/><g fill="#8A8A8A"><rect x="145" y="562" width="7" height="5"/><rect x="145" y="574" width="7" height="6"/><rect x="145" y="590" width="7" height="6"/></g><rect x="152" y="586" width="24" height="30" fill="#A99BBA"/>
<rect x="83" y="615" width="93" height="3" fill="#4C6B92"/><path d="M84 600L92 595L100 598L108 594L116 598L124 594L133 600" fill="none" stroke="#8A2A3A" stroke-width="1.500"/>
<use href="#smoke" transform="translate(147 545)"/>
<!-- fuel oil -->
<path d="M120 660V628Q126 618 129 622Q128 640 124 650z" fill="#553F82"/><rect x="128" y="631" width="54" height="5" fill="#C99B3A"/><path d="M150 636L143 678H147L153 640L165 678H169L155 636z" fill="#C99B3A"/><path d="M180 636V665" stroke="#553F82" stroke-width="1.300"/><path d="M172 678L178 665H183L188 678z" fill="#2E4F7F"/><rect x="118" y="677" width="71" height="4" fill="#8B68B8"/>
<!-- coal -->
<use href="#chim" transform="translate(117 707)"/><use href="#chim" transform="translate(127 707)"/><use href="#chim" transform="translate(152 702)"/><use href="#chim" transform="translate(182 707)"/>
<use href="#smoke" transform="translate(117 704) scale(.9 .85)"/><use href="#smoke" transform="translate(152 701) scale(.6 .8)"/><use href="#smoke" transform="translate(177 704) scale(.8)"/>
<path d="M111 756L122 741L128 737L133 743L142 727L165 756z" fill="#3C4050"/><rect x="166" y="729" width="29" height="27" fill="#C9935F"/><g fill="#EFD9BE"><rect x="169" y="733" width="23" height="5"/><rect x="169" y="742" width="23" height="5"/></g><path d="M137 750L166 738" stroke="#C98548" stroke-width="3"/><rect x="110" y="755" width="85" height="3" fill="#8C7A6A"/>
<!-- nuclear -->
<rect x="66" y="810" width="34" height="20" fill="#3F5E8C"/><rect x="72" y="788" width="3" height="22" fill="#505A66"/><rect x="77" y="788" width="3" height="22" fill="#505A66"/><rect x="84" y="792" width="9" height="18" fill="#5E6AB0"/>
<path d="M99 801H117L115 829H95Q100 815 99 801z" fill="#D8C7BD"/><path d="M117 788H141C138 805 140 818 150 829H112Q122 815 117 788z" fill="#D8C7BD"/><rect x="119" y="803" width="22" height="5" fill="#EA5455"/><rect x="116" y="819" width="29" height="4" fill="#EA5455"/><rect x="98" y="810" width="17" height="4" fill="#EA5455"/>
<g fill="#BCC5D0"><ellipse cx="124" cy="773" rx="16" ry="11"/><ellipse cx="133" cy="780" rx="10" ry="9"/><ellipse cx="103" cy="786" rx="9" ry="8"/><ellipse cx="69" cy="785" rx="5" ry="5"/><ellipse cx="78" cy="788" rx="5" ry="4"/></g>
<!-- electricity -->
<g fill="none" stroke="#A8C5F2" stroke-width="4"><path d="M365 541Q372 520 388 518"/><path d="M432 529Q460 545 442 572"/></g><path d="M382 513L392 518L382 526zM428 526L438 522L436 536z" fill="#A8C5F2"/>
<use href="#tow" transform="translate(365 537)"/>
<path d="M407 511C392 511 387 525 392 537C396 545 400 550 400 560H415C415 550 419 545 423 537C427 525 422 511 407 511z" fill="#E9CF33"/><rect x="394" y="559" width="27" height="15" rx="3" fill="#8FA3C6"/><path d="M400 574H415L412 580H403z" fill="#3F5E8C"/>
<path d="M379 585H417L421 617H375z" fill="#5178C6"/><g stroke="#A6BEE8" stroke-width="1"><path d="M377 595H419M376 605H420M389 585L386 617M398 585V617M408 585L411 617"/></g>
<use href="#turb" transform="translate(438 577) scale(1.200)"/>
<!-- poles -->
<g stroke="#7C5A3A" fill="none"><path d="M463 641V697M515 641V697" stroke-width="2.500"/><path d="M451 653H474M451 662H474M504 653H527M504 662H527" stroke-width="1.500"/></g>
<g fill="none" stroke="#9DB1D0"><path d="M474 662Q485 675 484 680M504 662Q497 675 496 680"/></g>
<rect x="477" y="674" width="24" height="22" rx="2" fill="#3F6A9E"/><rect x="484" y="678" width="9" height="10" fill="#8FA3C6"/>
<use href="#tow" transform="translate(429 715) scale(.9)"/><use href="#tow" transform="translate(465 702)"/>

<!-- LABELS -->
<g class="l">
<text x="255" y="100">sunlight</text><text x="266" y="140">wind</text><text x="266" y="192">rain</text>
<text x="266" y="264">tides</text><text x="267" y="320">waves</text><text x="236" y="368">geothermal heat</text>
<text x="498" y="113">police</text><text x="498" y="161">military</text>
<text x="983" y="76">drinking water</text><text x="1001" y="119">waste water/sewage</text><text x="1098" y="162">stemming of surface water (e.g. dikes and sluices)</text>
<text x="1185" y="246">Natural gas heating</text><text x="1169" y="289">Fuel oil heating</text><text x="1169" y="333">District heating</text>
<text x="1311" y="424">agriculture</text><text x="1317" y="495">food production</text><text x="1322" y="543">food distribution</text>
<text x="1233" y="639">goods and services</text><text x="1216" y="696">financial services</text>
<text x="1364" y="694">banking</text><text x="1346" y="734">clearing</text>
<text x="1154" y="864">skills development</text><text x="1152" y="907">technology transfer</text><text x="1248" y="949">basic subsistence and unemployment rate statistics</text>
<text x="1071" y="1030">coordination for successful operations</text>
<text x="194" y="460">hospitals</text><text x="194" y="519">ambulances</text>
<text x="225" y="606">natural gas</text><text x="232" y="672">fuel oil</text><text x="237" y="748">coal</text><text x="215" y="813">nuclear power</text>
<text x="412" y="834">fuel supply</text><text x="404" y="876">railway network</text><text x="436" y="952">airports</text><text x="408" y="1028">harbours</text><text x="406" y="1074">inland shipping</text>
</g>
<g class="n">
<text x="486" y="287">Renewable</text><text x="486" y="303">energy</text>
<text x="629" y="161">Security</text><text x="629" y="178">services</text>
<text x="811" y="152">Water</text><text x="811" y="168">supply</text>
<text x="1028" y="274">Shelter</text><text x="1028" y="291">and</text><text x="1028" y="308">Heating</text>
<text x="1104" y="495">Food</text>
<text x="1087" y="656">Economic</text><text x="1087" y="672">sector</text>
<text x="989" y="880">Education</text>
<text x="822" y="946">Telecommunication</text>
<text x="598" y="927">Transportation</text><text x="598" y="944">systems</text>
<text x="401" y="640">Electricity</text><text x="401" y="657">generation,</text><text x="401" y="673">transmission</text><text x="401" y="690">and</text><text x="401" y="707">distribution</text>
<text x="401" y="448">Public</text><text x="401" y="465">health</text>
</g>
<g class="c">
<text x="750" y="463">Critical</text><text x="750" y="494">Infrastructure</text><text x="750" y="526">Assets</text><text x="750" y="558">and</text><text x="750" y="589">Facilities</text>
</g>
</svg>
</body></html>
